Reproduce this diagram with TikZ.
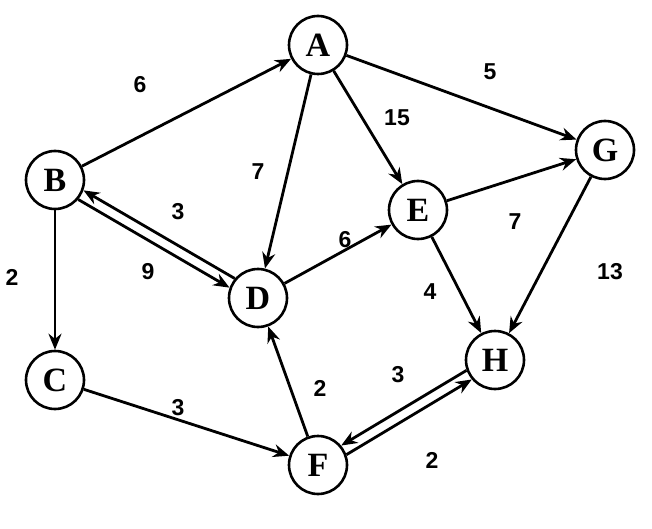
\documentclass[tikz,border=0pt]{standalone}
\usepackage{fontspec}
\setmainfont{Liberation Serif}
\newfontfamily\lbl{Liberation Sans}
\usetikzlibrary{arrows.meta}
\begin{document}
\begin{tikzpicture}[x=1pt,y=-1pt,
  vtx/.style={circle,draw,line width=2.6pt,minimum size=58pt,inner sep=0pt,font=\bfseries\fontsize{34}{34}\selectfont},
  edge/.style={line width=2.8pt,-{Stealth[length=16pt,width=13pt]}},
  wt/.style={font=\lbl\bfseries\fontsize{23}{23}\selectfont}]
\useasboundingbox (0,0) rectangle (652,529);
\node[vtx] (A) at (318,45) {A};
\node[vtx] (B) at (55,180) {B};
\node[vtx] (C) at (55,380) {C};
\node[vtx] (D) at (258,298) {D};
\node[vtx] (E) at (418,210) {E};
\node[vtx] (G) at (605,150) {G};
\node[vtx] (H) at (495,360) {H};
\node[vtx] (F) at (318,465) {F};
\draw[edge] (B) -- (A);
\draw[edge] (A) -- (D);
\draw[edge] (A) -- (E);
\draw[edge] (A) -- (G);
\draw[edge] (D.140) -- (B.-20);
\draw[edge] (B.-40) -- (D.160);
\draw[edge] (B) -- (C);
\draw[edge] (D) -- (E);
\draw[edge] (E) -- (G);
\draw[edge] (E) -- (H);
\draw[edge] (G) -- (H);
\draw[edge] (C) -- (F);
\draw[edge] (F) -- (D);
\draw[edge] (F.20) -- (H.220);
\draw[edge] (H.200) -- (F.40);
\node[wt] (w1) at (140,85) {6};
\node[wt] (w2) at (258,172) {7};
\node[wt] (w3) at (397,118) {15};
\node[wt] (w4) at (490,72) {5};
\node[wt] (w5) at (178,212) {3};
\node[wt] (w6) at (148,272) {9};
\node[wt] (w7) at (12,277) {2};
\node[wt] (w8) at (345,240) {6};
\node[wt] (w9) at (515,222) {7};
\node[wt] (w10) at (430,292) {4};
\node[wt] (w11) at (610,272) {13};
\node[wt] (w12) at (178,408) {3};
\node[wt] (w13) at (320,388) {2};
\node[wt] (w14) at (398,375) {3};
\node[wt] (w15) at (432,460) {2};
\end{tikzpicture}
\end{document}
